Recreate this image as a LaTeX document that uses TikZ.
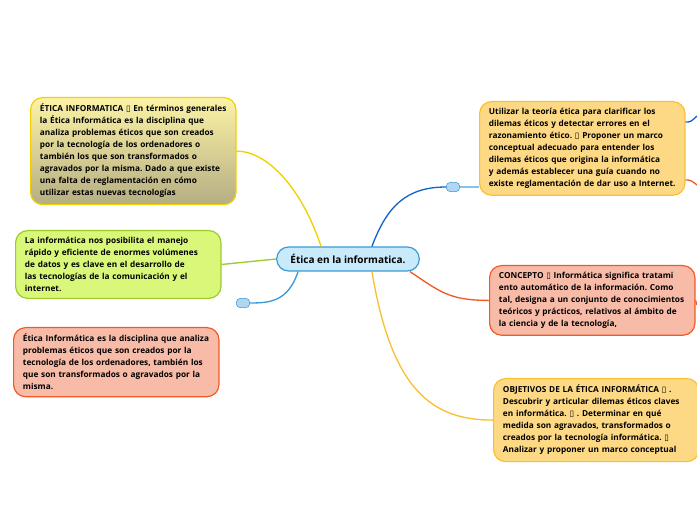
\documentclass[tikz,border=0pt]{standalone}
\usepackage{fontspec}
\setmainfont{Open Sans}
\newfontfamily\symf{DejaVu Sans}
\newcommand{\bx}{{\symf\char"25AF}}
\newcommand{\nohy}{\hyphenpenalty=10000\relax\frenchspacing}
\definecolor{ylb}{HTML}{FDD985}\definecolor{yld}{HTML}{F8C032}
\definecolor{slf}{HTML}{F8BBA8}\definecolor{sld}{HTML}{F05A28}
\definecolor{grf}{HTML}{D9F87A}\definecolor{grd}{HTML}{9CCB2A}
\definecolor{y1t}{HTML}{FCF3A6}\definecolor{y1b}{HTML}{B5AE82}\definecolor{y1d}{HTML}{F0D000}
\definecolor{cbf}{HTML}{C8EAFA}\definecolor{cbd}{HTML}{3A9AD8}
\definecolor{blk}{HTML}{1565D0}
\begin{document}
\begin{tikzpicture}[x=0.75pt,y=-0.75pt,
 box/.style={rounded corners=9pt,line width=0.9pt,align=left,inner xsep=7pt,inner ysep=5pt,font=\fontsize{6.2}{9}\selectfont\bfseries\nohy},
 blob/.style={draw=cbd,fill=cbd!40,rounded corners=3pt,minimum width=10pt,minimum height=7pt,inner sep=0pt},
 conn/.style={line width=1pt}]
\useasboundingbox (0,0) rectangle (697,520);
\node[box,draw=cbd,fill=cbf,font=\fontsize{7.5}{10}\selectfont\bfseries,minimum width=107pt,minimum height=18pt,align=center] (c) at (348,259) {Ética en la informatica.};
\node[box,draw=y1d,top color=y1t,bottom color=y1b,text width=140pt,anchor=north west] (n1) at (30,97) {ÉTICA INFORMATICA \bx{} En términos generales la Ética Informática es la disciplina que analiza problemas éticos que son creados por la tecnología de los ordenadores o también los que son transformados o agravados por la misma. Dado a que existe una falta de reglamentación en cómo utilizar estas nuevas tecnologías};
\node[box,draw=grd,fill=grf,text width=140pt,anchor=north west] (n2) at (15,230) {La informática nos posibilita el manejo rápido y eficiente de enormes volúmenes de datos y es clave en el desarrollo de las tecnologías de la comunicación y el internet.};
\node[box,draw=sld,fill=slf,text width=140pt,anchor=north west] (n3) at (13,327) {Ética Informática es la disciplina que analiza problemas éticos que son creados por la tecnología de los ordenadores, también los que son transformados o agravados por la misma.};
\node[blob] (b1) at (243,303) {};
\node[blob] (b2) at (453,187) {};
\node[box,draw=yld,fill=ylb,text width=140pt,anchor=north west] (r1) at (479,101) {Utilizar la teoría ética para clarificar los dilemas éticos y detectar errores en el razonamiento ético. \bx{} Proponer un marco conceptual adecuado para entender los dilemas éticos que origina la informática y además establecer una guía cuando no existe reglamentación de dar uso a Internet.};
\node[box,draw=sld,fill=slf,text width=140pt,anchor=north west] (r2) at (489,265) {CONCEPTO \bx{} Informática significa tratami ento automático de la información. Como tal, designa a un conjunto de conocimientos teóricos y prácticos, relativos al ámbito de la ciencia y de la tecnología,};
\node[box,draw=yld,fill=ylb,text width=140pt,anchor=north west] (r3) at (493,378) {OBJETIVOS DE LA ÉTICA INFORMÁTICA \bx{} . Descubrir y articular dilemas éticos claves en informática. \bx{} . Determinar en qué medida son agravados, transformados o creados por la tecnología informática. \bx{} Analizar y proponer un marco conceptual};
\coordinate (e1) at (697,116);
\coordinate (e2) at (697,185);
\coordinate (e3) at (697,305);
\coordinate (e4) at (697,417);
\draw[conn,y1d] (c.north west) ++(45,0) .. controls +(-20,-60) and +(30,0) .. (n1.east);
\draw[conn,grd] (c.west) -- (n2.east);
\draw[conn,cbd] (c.south west) ++(22,0) .. controls +(-10,30) and +(20,0) .. (b1.east);
\draw[conn,blk] (c.north east) ++(-48,0) .. controls +(15,-40) and +(-40,0) .. (b2.west);
\draw[conn,cbd!60] (b2.east) -- (r1.west|-b2.east);
\draw[conn,sld] (c.south east) ++(-10,0) .. controls +(30,20) and +(-40,0) .. (r2.west);
\draw[conn,yld] (c.south east) ++(-48,0) .. controls +(20,120) and +(-60,0) .. (r3.west);
\draw[conn,blk] (r1.east|-0,122) .. controls +(5,0) .. (e1);
\draw[conn,sld] (r1.east|-0,180) .. controls +(5,0) .. (e2);
\draw[conn,sld] (r2.east) -- (e3);
\draw[conn,yld] (r3.east) -- (e4);
\end{tikzpicture}
\end{document}
